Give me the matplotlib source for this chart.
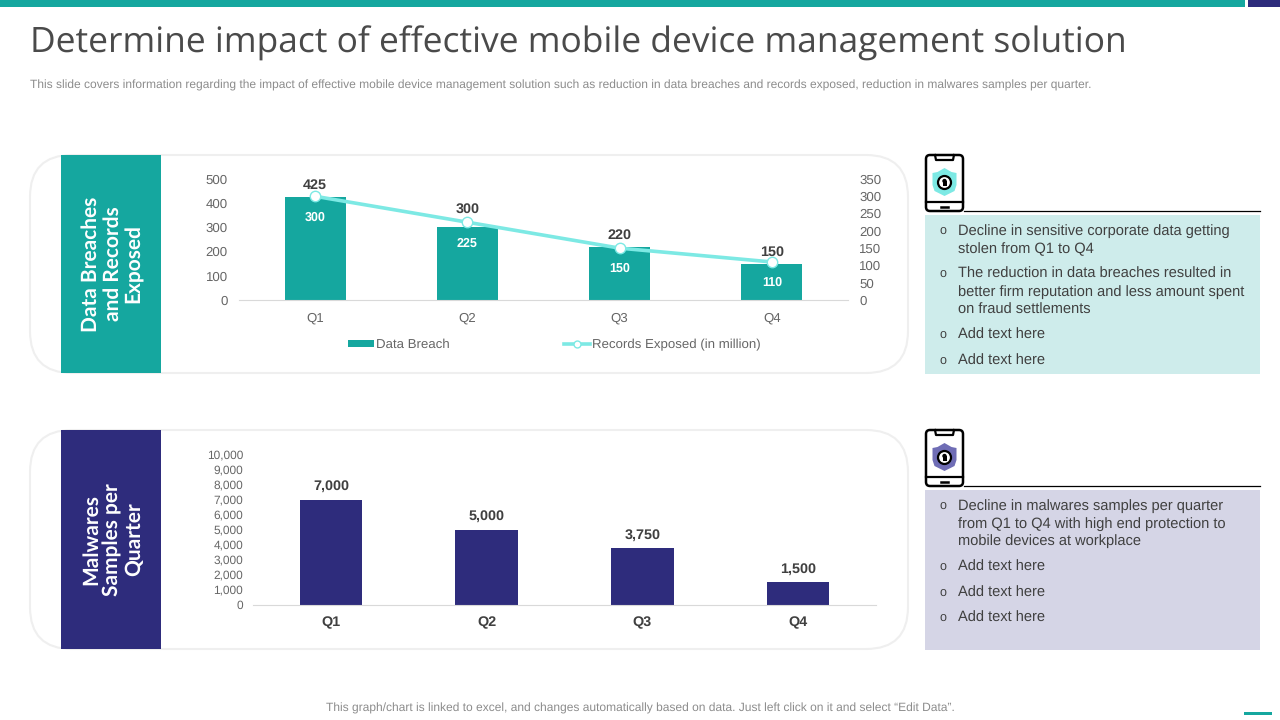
#!/usr/bin/env python3
"""Slide: impact of mobile device management, two bar charts with side notes."""

import matplotlib
matplotlib.use("Agg")
import matplotlib.pyplot as plt
from matplotlib.lines import Line2D
from matplotlib.patches import Circle, FancyBboxPatch, Patch, PathPatch, Rectangle
from matplotlib.path import Path

# Colors
TEAL = "#15A79F"
NAVY = "#2E2C7C"
CYAN = "#7DE9E4"
LIGHT_TEAL = "#CEECEB"
LIGHT_NAVY = "#D5D5E6"
SHIELD_NAVY = "#6F6DB5"
DARK = "#404040"
TICK = "#666666"
GRAY = "#8C8C8C"

# Data
QUARTERS = ["Q1", "Q2", "Q3", "Q4"]
DATA_BREACH = [425, 300, 220, 150]
RECORDS_EXPOSED = [300, 225, 150, 110]
MALWARE_SAMPLES = [7000, 5000, 3750, 1500]
BREACH_TICKS = [0, 100, 200, 300, 400, 500]
RECORDS_TICKS = [0, 50, 100, 150, 200, 250, 300, 350]
MALWARE_TICKS = [0, 1000, 2000, 3000, 4000, 5000, 6000, 7000, 8000, 9000, 10000]

TITLE = "Determine impact of effective mobile device management solution"
SUBTITLE = ("This slide covers information regarding the impact of effective mobile device "
            "management solution such as reduction in data breaches and records exposed, "
            "reduction in malwares samples per quarter.")
FOOTER = ("This graph/chart is linked to excel, and changes automatically based on data. "
          "Just left click on it and select \u201cEdit Data\u201d.")
NOTES_TOP = [
    ["Decline in sensitive corporate data getting", "stolen from Q1 to Q4"],
    ["The reduction in data breaches resulted in",
     "better firm reputation and less amount spent", "on fraud settlements"],
    ["Add text here"],
    ["Add text here"],
]
NOTES_BOTTOM = [
    ["Decline in malwares samples per quarter",
     "from Q1 to Q4 with high end protection to",
     "mobile devices at workplace"],
    ["Add text here"],
    ["Add text here"],
    ["Add text here"],
]

W, H = 1280, 720
plt.rcParams["font.family"] = ["Liberation Sans", "DejaVu Sans"]
plt.rcParams["text.hinting"] = "no_hinting"
plt.rcParams["text.hinting_factor"] = 8

fig = plt.figure(figsize=(12.8, 7.2), dpi=100, facecolor="white")

# Overlay axes in slide pixels, y pointing down
bg = fig.add_axes([0, 0, 1, 1])
bg.set_xlim(0, W)
bg.set_ylim(H, 0)
bg.axis("off")


def px_axes(left, top, right, bottom):
    ax = fig.add_axes([left / W, 1 - bottom / H, (right - left) / W, (bottom - top) / H])
    ax.patch.set_alpha(0)
    return ax


def draw_panel(top, bottom, color, label):
    bg.add_patch(FancyBboxPatch((30 + 42, top + 42), 878 - 84, bottom - top - 84,
                                boxstyle="round,pad=42", facecolor="white",
                                edgecolor="#EFEFEF", linewidth=1.5))
    bg.add_patch(Rectangle((61, top), 100, bottom - top, facecolor=color, edgecolor="none", zorder=3))
    bg.text(112.5, (top + bottom) / 2, label, rotation=90, ha="center", va="center",
            color="white", fontsize=15, fontweight="bold", family="Lato",
            linespacing=1.15, multialignment="center", zorder=4)


def draw_phone(top, shield_color):
    x0, x1 = 926, 963
    bot = top + 56
    bg.add_patch(FancyBboxPatch((x0 + 4, top + 4), x1 - x0 - 8, 48, boxstyle="round,pad=4",
                                facecolor="white", edgecolor="black", linewidth=1.8, zorder=3))
    bg.plot([935, 936, 953, 954], [top, top + 5, top + 5, top], color="black", lw=1.6, zorder=4)
    bg.plot([x0, x1], [bot - 9, bot - 9], color="black", lw=1.6, zorder=4)
    bg.plot([941, 948], [bot - 4.5, bot - 4.5], color="black", lw=1.8, zorder=4)
    cx = 944.5
    verts = [(cx, top + 13), (cx + 7, top + 17), (cx + 12, top + 18), (cx + 12, top + 30),
             (cx + 10, top + 36), (cx, top + 41), (cx - 10, top + 36), (cx - 12, top + 30),
             (cx - 12, top + 18), (cx - 7, top + 17), (cx, top + 13)]
    bg.add_patch(PathPatch(Path(verts), facecolor=shield_color, edgecolor="none", zorder=4))
    bg.add_patch(Circle((cx, top + 27.5), 6.5, facecolor="white", edgecolor="black", lw=1.6, zorder=5))
    bg.add_patch(Circle((cx, top + 26), 2.2, facecolor="black", edgecolor="none", zorder=6))
    bg.add_patch(Rectangle((cx - 2, top + 26), 4, 5, facecolor="black", edgecolor="none", zorder=6))
    bg.plot([964, 1260], [top + 55.5, top + 55.5], color="black", lw=0.9, zorder=2)


def draw_notes(top, bottom, color, notes, line_ys):
    bg.add_patch(Rectangle((925, top), 335, bottom - top, facecolor=color, edgecolor="none"))
    i = 0
    for note in notes:
        bg.text(943, line_ys[i], "o", ha="center", va="center", fontsize=9, color=DARK)
        for line in note:
            bg.text(958, line_ys[i], line, ha="left", va="center", fontsize=10.55, color=DARK)
            i += 1


# Header and footer
bg.add_patch(Rectangle((0, 0), 1245, 7, facecolor=TEAL, edgecolor="none"))
bg.add_patch(Rectangle((1248, 0), 32, 7, facecolor=NAVY, edgecolor="none"))
bg.add_patch(Rectangle((1244, 712), 28, 3, facecolor=TEAL, edgecolor="none"))
bg.text(30, 43, TITLE, ha="left", va="center", fontsize=25.5, color="#4A4A4A", family="Open Sans")
bg.text(30, 85.5, SUBTITLE, ha="left", va="center", fontsize=8.66, color=GRAY)
bg.text(640, 708.5, FOOTER, ha="center", va="center", fontsize=8.68, color=GRAY)

draw_panel(155, 373, TEAL, "Data Breaches\nand Records\nExposed")
draw_panel(430, 649, NAVY, "Malwares\nSamples per\nQuarter")
draw_phone(155, CYAN)
draw_phone(430, SHIELD_NAVY)
draw_notes(215, 374, LIGHT_TEAL, NOTES_TOP, [231, 249, 274, 292, 310, 335, 361])
draw_notes(490, 650, LIGHT_NAVY, NOTES_BOTTOM, [506, 524, 541, 567, 593, 618])

# Top chart: bars on the left scale, line on the right scale
ax = px_axes(239, 179, 848, 300)
positions = range(len(QUARTERS))
ax.bar(positions, DATA_BREACH, width=0.4, color=TEAL, zorder=2)
ax.set_xlim(-0.5, 3.5)
ax.set_ylim(0, 500)
ax.set_yticks(BREACH_TICKS)
ax.set_xticks(list(positions), QUARTERS)
ax.tick_params(axis="both", length=0, labelsize=9.5, labelcolor=TICK)
ax.tick_params(axis="x", pad=8.5)
ax.tick_params(axis="y", pad=8)
for side in ["top", "left", "right"]:
    ax.spines[side].set_visible(False)
ax.spines["bottom"].set_color("#D9D9D9")

ax2 = ax.twinx()
ax2.plot(positions, RECORDS_EXPOSED, color=CYAN, lw=2.6, marker="o", ms=7.5,
         mfc="white", mec=CYAN, mew=1, zorder=3)
ax2.set_ylim(0, 350)
ax2.set_yticks(RECORDS_TICKS)
ax2.tick_params(axis="y", length=0, labelsize=9.5, labelcolor=TICK, pad=8)
for side in ["top", "left", "right", "bottom"]:
    ax2.spines[side].set_visible(False)

# Q2 label sits higher in the original to clear the line
label_lift = [8.5, 13.2, 8.5, 8.5]
for x, breach, records, lift in zip(positions, DATA_BREACH, RECORDS_EXPOSED, label_lift):
    ax2.annotate(f"{records}", (x, records), xytext=(0, -15), textcoords="offset points",
                 ha="center", va="center", fontsize=9, fontweight="bold", color="white")
    ax.annotate(f"{breach}", (x, breach), xytext=(0, lift), textcoords="offset points",
                ha="center", va="center", fontsize=10.4, fontweight="bold", color=DARK,
                zorder=5)

fig.legend(
    handles=[Patch(facecolor=TEAL, label="Data Breach"),
             Line2D([], [], color=CYAN, lw=2.6, marker="o", ms=5, mfc="white", mec=CYAN,
                    label="Records Exposed (in million)")],
    ncol=2, loc="center", bbox_to_anchor=(554.5 / W, 1 - 345 / H), frameon=False, fontsize=9.5,
    labelcolor=TICK, handlelength=1.97, handleheight=0.5, handletextpad=0.15,
    columnspacing=8.7, borderpad=0, borderaxespad=0,
)

# Bottom chart
ax3 = px_axes(253, 454.5, 876, 604.5)
ax3.bar(positions, MALWARE_SAMPLES, width=0.4, color=NAVY, zorder=2)
ax3.set_xlim(-0.5, 3.5)
ax3.set_ylim(0, 10000)
ax3.set_yticks(MALWARE_TICKS, [f"{v:,}" for v in MALWARE_TICKS])
ax3.set_xticks(list(positions), QUARTERS, fontweight="bold")
ax3.tick_params(axis="y", length=0, labelsize=8.6, labelcolor=TICK, pad=7)
ax3.tick_params(axis="x", length=0, labelsize=10.4, labelcolor=DARK, pad=8.5)
for side in ["top", "left", "right"]:
    ax3.spines[side].set_visible(False)
ax3.spines["bottom"].set_color("#D9D9D9")
for x, value in zip(positions, MALWARE_SAMPLES):
    ax3.annotate(f"{value:,}", (x, value), xytext=(0, 9.5), textcoords="offset points",
                 ha="center", va="center", fontsize=10.4, fontweight="bold", color=DARK)

fig.savefig("out.png", dpi=100, facecolor="white")
